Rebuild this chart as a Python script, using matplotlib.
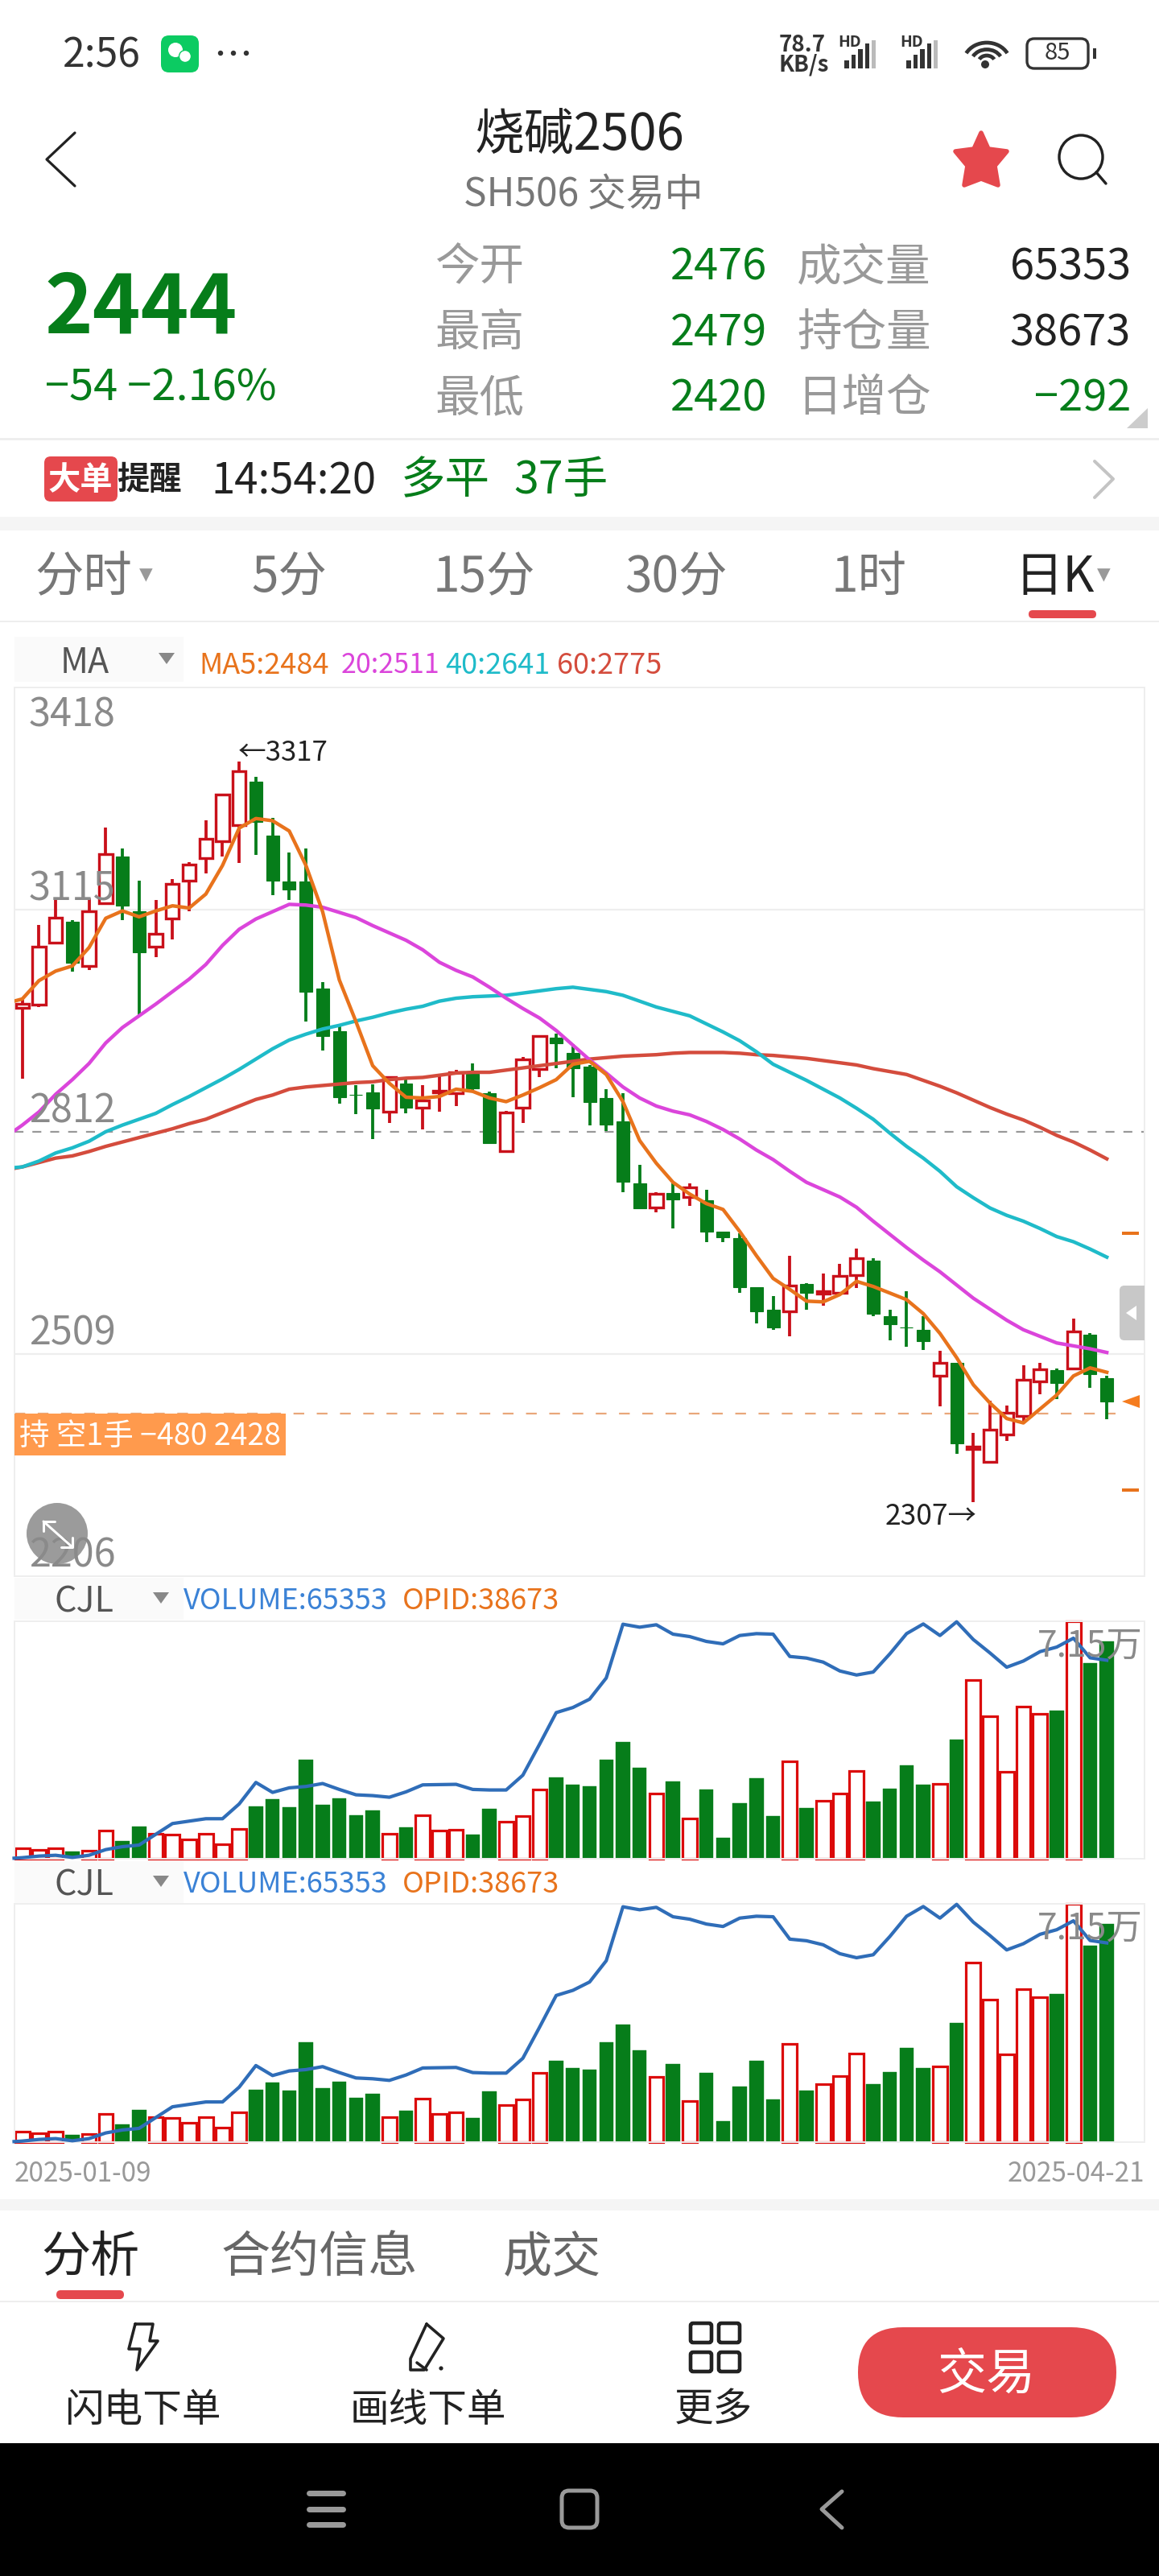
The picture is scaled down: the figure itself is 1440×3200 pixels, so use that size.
import matplotlib
matplotlib.use("Agg")
import matplotlib.pyplot as plt
from matplotlib.patches import Rectangle, FancyBboxPatch, Circle, Polygon, Arc

FONT = ['Noto Sans CJK SC', 'DejaVu Sans']
plt.rcParams['font.family'] = FONT
plt.rcParams['axes.unicode_minus'] = False

GREEN = '#067D1A'
RED = '#C9101A'
VRED = '#DB0A0A'
ACC = '#E5484D'
C_MA5, C_MA20, C_MA40, C_MA60 = '#E8731C', '#DB45DB', '#1FBBC9', '#D44C3D'
C_VOL, C_OPID = '#2F6DB8', '#E8731C'
GRID = '#EEEEEE'

# ---------- data ----------
candle_high = [2992,3094,3130,3101,3130,3227,3198,3154,3128,3156,3179,3237,3272,3317,3296,3240,3193,3198,3016,2958,2876,2877,
               2888,2887,2876,2888,2896,2905,2867,2840,2914,2944,2946,2932,2903,2870,2864,2767,2729,2742,2742,2733,2676,2673,2600,
               2588,2643,2606,2619,2632,2653,2640,2569,2595,2561,2513,2497,2401,2445,2439,2494,2497,2489,2557,2538,2479]
candle_top = [2986,3064,3104,3098,3113,3191,3187,3113,3082,3150,3176,3211,3272,3304,3289,3216,3153,3153,3007,2949,2862,2866,
              2887,2878,2855,2868,2893,2891,2864,2838,2911,2942,2940,2919,2901,2858,2826,2742,2727,2728,2736,2719,2676,2667,2600,
              2569,2602,2604,2595,2615,2640,2636,2560,2545,2542,2497,2497,2383,2406,2429,2474,2488,2487,2540,2535,2476]
candle_bot = [2981,2985,3070,3042,3038,3124,3120,3057,3064,3103,3154,3185,3208,3230,3234,3154,3142,3003,2942,2859,2862,2844,
              2839,2845,2845,2866,2864,2871,2797,2785,2845,2897,2933,2898,2852,2822,2744,2708,2709,2720,2723,2676,2668,2600,2567,
              2545,2567,2592,2591,2592,2617,2564,2549,2545,2527,2479,2387,2379,2362,2399,2424,2472,2469,2489,2481,2444]
candle_low = [2884,2982,3070,3030,3032,3122,3101,2971,3050,3074,3113,3164,3187,3178,3189,3134,3128,2962,2923,2850,2836,2802,
              2824,2837,2815,2839,2847,2868,2795,2785,2824,2886,2898,2859,2821,2813,2729,2706,2702,2680,2711,2662,2661,2592,2551,
              2542,2533,2569,2575,2592,2599,2561,2528,2519,2514,2438,2373,2307,2362,2390,2416,2454,2447,2488,2463,2420]
candle_up = [1,1,1,0,1,1,0,0,1,1,1,1,1,1,0,0,0,0,0,0,0,0,
             1,0,1,1,1,0,0,1,1,1,0,0,0,0,0,0,1,0,1,0,0,0,0,
             0,1,0,1,1,1,0,0,0,0,1,0,1,1,1,1,1,0,1,0,0]

# first entry of every line is the point at the left edge of the panel
ma5 = [2990,2993,3018,3031,3038,3063,3103,3113,3105,3113,3120,3117,3136,3175,3226,3239,3236,3222,3175,3112,3019,2962,2902,
       2878,2859,2858,2860,2870,2867,2858,2853,2862,2872,2883,2904,2908,2890,2853,2800,2769,2743,2727,2714,2706,2676,2643,
       2612,2597,2581,2580,2590,2608,2601,2592,2583,2564,2537,2504,2467,2442,2421,2415,2434,2453,2479,2490,2484]
ma20 = [2813,2821,2839,2863,2883,2905,2933,2954,2970,2986,3003,3020,3040,3066,3088,3102,3112,3122,3121,3118,3111,3104,3093,
        3083,3073,3060,3043,3032,3023,3009,2994,2980,2967,2950,2930,2910,2892,2873,2858,2847,2840,2835,2826,2815,2802,2787,
        2774,2758,2743,2733,2723,2709,2690,2672,2654,2637,2621,2603,2585,2570,2555,2542,2533,2524,2520,2516,2511]
ma40 = [2763,2764,2772,2783,2790,2799,2812,2821,2829,2837,2849,2860,2872,2884,2897,2911,2925,2937,2945,2952,2957,2963,2968,
        2974,2979,2983,2990,2994,2996,2997,2998,3001,3004,3007,3009,3006,3003,2998,2990,2982,2976,2970,2959,2948,2936,2921,
        2904,2893,2882,2870,2858,2844,2829,2810,2792,2776,2758,2737,2722,2708,2698,2690,2680,2669,2662,2652,2641]
ma60 = [2762,2764,2770,2776,2779,2785,2792,2798,2804,2810,2816,2823,2829,2838,2847,2856,2862,2870,2873,2875,2877,2879,2880,
        2883,2885,2886,2889,2892,2893,2893,2896,2899,2902,2905,2908,2911,2913,2915,2916,2917,2919,2920,2920,2920,2919,2917,
        2916,2914,2912,2909,2906,2903,2898,2894,2890,2882,2874,2865,2855,2845,2836,2828,2818,2807,2798,2787,2775]

volume = [3235,2750,3235,2100,2345,8410,5340,9700,7440,7280,5820,7600,4370,8900,15770,17950,15450,29850,16180,18120,13180,14560,
          7600,9380,13020,8410,8820,7200,15120,11160,12780,20870,24500,22320,21760,29850,35260,27500,19650,23370,12210,20870,
          6390,16740,24340,12860,29360,15370,17470,19730,26530,17310,21030,28230,22320,22650,35830,53790,42790,26210,45780,
          43510,44480,71500,58880,65353]
volume_up = [1,1,1,0,1,1,0,0,1,1,1,1,1,1,0,0,0,0,0,0,0,0,1,0,1,1,1,0,0,1,1,1,0,0,0,0,0,0,1,0,1,0,0,0,0,0,1,0,1,1,1,0,0,0,0,1,0,1,1,1,1,1,0,1,0,0]
opid = [105,209,523,680,262,680,1779,2355,2669,4762,6855,7326,7797,7797,10675,14862,12926,13815,14077,14652,13501,12455,12298,
        11984,13030,14391,14443,14495,13501,13396,13396,16275,22293,28468,29462,31084,35218,45684,45108,45579,43748,43277,42335,
        41864,43486,43852,43748,39404,39091,38306,36579,35794,36370,39928,43852,45736,43486,46155,42701,40085,37311,38515,40346,
        41236,42963,39143,38673]

price_ticks = [3418, 3115, 2812, 2509, 2206]
price_tick_px = [30, -30, -30, -30, -30]
hold_price = 2428
date_labels = ['2025-01-09', '2025-04-21']
vol_max_label = '7.15万'
info_rows = [('今开', '2476', '成交量', '65353', '#222222'),
             ('最高', '2479', '持仓量', '38673', '#222222'),
             ('最低', '2420', '日增仓', '−292', GREEN)]
period_tabs = [('分时', 104, '#777777'), ('5分', 359, '#777777'), ('15分', 601, '#777777'),
               ('30分', 840, '#777777'), ('1时', 1080, '#777777'), ('日K', 1310, '#222222')]

# ---------- layout ----------
W, H = 1440, 3200
fig = plt.figure(figsize=(14.4, 32), dpi=100, facecolor='white')
X0, X1 = 17.5, 1422.0
STEP, XFIRST = 20.73, 27.7
xlim = ((X0 - XFIRST) / STEP, (X1 - XFIRST) / STEP)
idx = list(range(len(candle_high)))
line_x = [xlim[0]] + idx


def add_panel(top, bottom):
    ax = fig.add_axes([X0 / W, 1 - bottom / H, (X1 - X0) / W, (bottom - top) / H])
    ax.set_xlim(*xlim)
    ax.set_xticks([])
    ax.set_yticks([])
    for s in ax.spines.values():
        s.set_color(GRID)
        s.set_linewidth(1.4)
    return ax


def px_pt(p):
    return p * 72 / 100


# ---------- price panel ----------
ax = add_panel(853.7, 1958)
ax.set_ylim(price_ticks[-1], price_ticks[0])
ax.hlines([3115, 2509], *xlim, color=GRID, lw=1.6, zorder=1)
ax.hlines([2812], *xlim, color='#999999', lw=1.6, linestyles=(0, (5, 5)), zorder=1)
ax.hlines([hold_price], xlim[0], 65.5, color='#E9A77A', lw=1.6, linestyles=(0, (6, 7)), zorder=1)
for i in idx:
    col = RED if candle_up[i] else GREEN
    ax.vlines(i, candle_low[i], candle_high[i], color=col, lw=px_pt(3.8), zorder=2)
    if candle_up[i]:
        ax.bar(i, candle_top[i] - candle_bot[i], bottom=candle_bot[i], width=0.79, facecolor='white',
               edgecolor=col, linewidth=px_pt(3.4), zorder=3)
    else:
        ax.bar(i, candle_top[i] - candle_bot[i], bottom=candle_bot[i], width=0.77, facecolor=col,
               edgecolor=col, linewidth=0.8, zorder=3)
for vals, col in ((ma60, C_MA60), (ma40, C_MA40), (ma20, C_MA20), (ma5, C_MA5)):
    ax.plot(line_x, vals, color=col, lw=px_pt(4.4), zorder=5, solid_joinstyle='round')
for v, off in zip(price_ticks, price_tick_px):
    ax.annotate(str(v), xy=(0, v), xycoords=ax.get_yaxis_transform(), xytext=(px_pt(18.5), px_pt(-off - 5)),
                textcoords='offset points', fontsize=35, color='#8A8A8A', ha='left', va='center', zorder=8)
ax.annotate('←3317', xy=(13, 3317), xytext=(px_pt(-1), px_pt(10)), textcoords='offset points',
            fontsize=25, color='#222222', ha='left', va='center', zorder=8)
ax.annotate('2307→', xy=(57, 2307), xytext=(px_pt(4), px_pt(-18)), textcoords='offset points',
            fontsize=25.5, color='#222222', ha='right', va='center', zorder=8)


# ---------- volume panels ----------
def volume_panel(top, bottom):
    a = add_panel(top, bottom)
    a.set_ylim(0, max(volume))
    for i in idx:
        if volume_up[i]:
            a.bar(i, volume[i], width=0.85, facecolor='white', edgecolor=VRED, linewidth=px_pt(3.2), zorder=2, clip_on=False)
        else:
            a.bar(i, volume[i], width=0.84, facecolor=GREEN, edgecolor=GREEN, linewidth=0.3, zorder=2)
    b = a.twinx()
    b.set_ylim(0, 46260)
    b.set_yticks([])
    for s in b.spines.values():
        s.set_visible(False)
    b.plot(line_x, opid, color=C_VOL, lw=px_pt(4.2), zorder=4, clip_on=False)
    b.annotate(vol_max_label, xy=(1, 1), xycoords='axes fraction', xytext=(px_pt(-2), px_pt(-31)),
               textcoords='offset points', fontsize=32, color='#8A8A8A', ha='right', va='center', zorder=6)
    return a


volume_panel(2014, 2309)
volume_panel(2365, 2661)

# ---------- screen chrome ----------
ui = fig.add_axes([0, 0, 1, 1], zorder=5)
ui.set_xlim(0, W)
ui.set_ylim(H, 0)
ui.axis('off')
ui.patch.set_alpha(0)


def T(x, y, s, size, color='#222222', ha='left', weight='normal', **kw):
    return ui.text(x, y + 0.14 * size, s, fontsize=size, color=color, ha=ha, va='center', fontweight=weight, **kw)


def band(y0, y1, color='#F5F5F5', x0=0, x1=W):
    ui.add_patch(Rectangle((x0, y0), x1 - x0, y1 - y0, facecolor=color, edgecolor='none'))


def round_box(x0, y0, x1, y1, r, fc, ec='none', lw=0):
    ui.add_patch(FancyBboxPatch((x0 + r, y0 + r), x1 - x0 - 2 * r, y1 - y0 - 2 * r,
                                boxstyle=f'round,pad={r},rounding_size={r}', facecolor=fc, edgecolor=ec, linewidth=lw))


def poly(xs, ys, color='#222222', lw=3.0):
    ui.plot(xs, ys, color=color, lw=px_pt(lw), solid_capstyle='round', solid_joinstyle='round')


# status bar
T(78, 64, '2:56', 36, '#333333')
round_box(200, 44, 247, 90, 10, '#0CCB62')
ui.add_patch(Circle((218, 62), 9, facecolor='white'))
ui.add_patch(Circle((230, 70), 7.5, facecolor='white', edgecolor='#0CCB62', linewidth=1))
for dx in (274, 290, 306):
    ui.add_patch(Circle((dx, 66), 3.2, facecolor='#333333'))
T(968, 53, '78.7', 20, '#333333', weight='bold')
T(968, 78, 'KB/s', 20, '#333333', weight='bold')
for x0 in (1049, 1126):
    T(x0 - 8, 51, 'HD', 14, '#333333', weight='bold')
    for k, h in enumerate((10, 17, 24, 31)):
        ui.add_patch(Rectangle((x0 + k * 8.5, 85 - h), 5.5, h, facecolor='#333333'))
    ui.add_patch(Rectangle((x0 + 34, 50), 5, 35, facecolor='#BBBBBB'))
for rw, rh in ((58, 50), (39, 33), (21, 18)):
    ui.add_patch(Arc((1226, 78), rw, rh, theta1=205, theta2=335, color='#333333', lw=3.4))
ui.add_patch(Circle((1224, 80), 5, facecolor='#333333'))
round_box(1276, 48, 1352, 85, 9, 'none', '#333333', 2.4)
T(1314, 63, '85', 21, '#333333', ha='center')
ui.add_patch(Rectangle((1358, 60), 4, 13, facecolor='#333333'))

# header
poly([93, 58, 93], [165, 198, 231], '#222222', 3.2)
T(720, 162, '烧碱2506', 44.5, '#222222', ha='center')
T(725, 237, 'SH506 交易中', 34.5, '#777777', ha='center')
star_x = [1219, 1228, 1251, 1236, 1240, 1219, 1198, 1202, 1187, 1210]
star_y = [165, 185, 188, 206, 230, 222, 230, 206, 188, 185]
ui.add_patch(Polygon(list(zip(star_x, star_y)), closed=True, facecolor=ACC, edgecolor=ACC, linewidth=4, joinstyle='round'))
ui.add_patch(Circle((1343, 195), 27, facecolor='none', edgecolor='#222222', linewidth=px_pt(3.4)))
poly([1362, 1374], [214, 228], '#222222', 3.4)

# quote block
T(55, 374, '2444', 73, GREEN, weight='bold')
T(56, 477, '−54 −2.16%', 39, GREEN)
for (lab, val, lab2, val2, col2), y in zip(info_rows, (327, 409, 490)):
    T(540, y, lab, 40, '#999999')
    T(953, y, val, 39, GREEN, ha='right')
    T(990, y, lab2, 40, '#999999')
    T(1405, y, val2, 39, col2, ha='right')
ui.add_patch(Polygon([(1426, 507), (1426, 532), (1400, 532)], closed=True, facecolor='#CCCCCC'))

band(544, 546.5, '#EEEEEE')
# big order row
round_box(55, 567, 146, 623, 8, ACC)
T(100, 592, '大单', 29, 'white', ha='center', weight='bold', style='italic')
T(185, 592, '提醒', 29, '#222222', ha='center', weight='bold', style='italic')
T(262, 593, '14:54:20', 38, '#222222')
T(498, 592, '多平', 40, GREEN)
T(638, 592, '37手', 40, GREEN)
poly([1360, 1383, 1360], [573, 595, 618], '#C4C4C4', 4)
band(642, 659)

# period tabs
for lab, cx, col in period_tabs:
    T(cx, 712, lab, 43.5, col, ha='center')
T(181, 710, '▾', 24, '#999999', ha='center')
T(1371, 710, '▾', 24, '#999999', ha='center')
round_box(1278, 758, 1362, 768, 5, ACC)
band(770.5, 773, '#EEEEEE')

# indicator rows
band(791, 847, '#FAFAFA', 18, 228)
T(105, 820, 'MA', 31, '#555555', ha='center')
ui.add_patch(Polygon([(197, 811), (217, 811), (207, 825)], closed=True, facecolor='#888888'))
for x, s, c, fs in ((247, 'MA5:2484', C_MA5, 26), (424, '20:2511', C_MA20, 24.5),
                    (553, '40:2641', C_MA40, 26), (692, '60:2775', C_MA60, 26)):
    T(x, 823, s, fs, c)
for y0 in (1958, 2310):
    band(y0 + 2, y0 + 54, '#FAFAFA', 18, 228)
    T(104, y0 + 28, 'CJL', 31, '#555555', ha='center')
    ui.add_patch(Polygon([(190, y0 + 20), (210, y0 + 20), (200, y0 + 34)], closed=True, facecolor='#888888'))
    T(228, y0 + 27, 'VOLUME:65353', 26, '#3B82D6')
    T(500, y0 + 27, 'OPID:38673', 26, C_MA5)

# hold label and markers on the price panel
band(1756, 1808, '#FF9A4D', 17.5, 355)
T(24, 1781, '持 空1手 −480 2428', 27, 'white')
band(1530, 1534, C_MA5, 1394, 1415)
band(1849, 1853, C_MA5, 1394, 1415)
ui.add_patch(Polygon([(1394, 1741), (1416, 1733), (1416, 1749)], closed=True, facecolor='#F57C1F'))
round_box(1391, 1597, 1422, 1665, 6, '#C8C8C8')
band(1597, 1665, '#C8C8C8', 1406, 1422)
ui.add_patch(Polygon([(1399, 1631), (1412, 1622), (1412, 1640)], closed=True, facecolor='white'))
ui.add_patch(Circle((71, 1905), 38, facecolor='#8A8A8A', alpha=0.85, edgecolor='none'))
poly([54, 90], [1890, 1922], 'white', 3)
poly([54, 54, 68], [1902, 1890, 1890], 'white', 3)
poly([90, 90, 76], [1910, 1922, 1922], 'white', 3)

# dates
T(18, 2697, date_labels[0], 24, '#999999')
T(1422, 2697, date_labels[1], 24, '#999999', ha='right')
band(2732, 2746)

# bottom tabs
T(51, 2799, '分析', 44, '#222222')
T(275, 2799, '合约信息', 44, '#666666')
T(625, 2799, '成交', 44, '#666666')
round_box(70, 2845, 154, 2856, 5.5, ACC)
band(2857.5, 2860, '#EEEEEE')

# action bar
poly([168, 190, 186, 196, 170, 174, 160, 168], [2887, 2887, 2908, 2908, 2944, 2918, 2918, 2887], '#222222', 3.6)
poly([530, 551, 527, 510, 510, 530], [2887, 2905, 2944, 2944, 2930, 2887], '#222222', 3.6)
poly([518, 530], [2935, 2944], '#222222', 3.6)
ui.add_patch(Circle((548, 2942), 2.6, facecolor='#222222'))
for x0 in (858, 893):
    for y0 in (2886, 2922):
        round_box(x0, y0, x0 + 26, y0 + 24, 3, 'none', '#222222', px_pt(4.6))
T(177, 2989, '闪电下单', 35, '#222222', ha='center')
T(532, 2989, '画线下单', 35, '#222222', ha='center')
T(886, 2989, '更多', 35, '#222222', ha='center')
round_box(1066, 2891, 1387, 3003, 56, ACC)
T(1225, 2944, '交易', 44, 'white', ha='center')

# navigation bar
band(3035, 3200, '#000000')
for y in (3097, 3117, 3136):
    poly([384, 426], [y, y], '#999999', 7)
round_box(698, 3094, 742, 3140, 9, 'none', '#999999', px_pt(5))
poly([1046, 1021, 1046], [3095, 3117, 3140], '#999999', 5)

fig.savefig('out.png', dpi=100, facecolor='white')
